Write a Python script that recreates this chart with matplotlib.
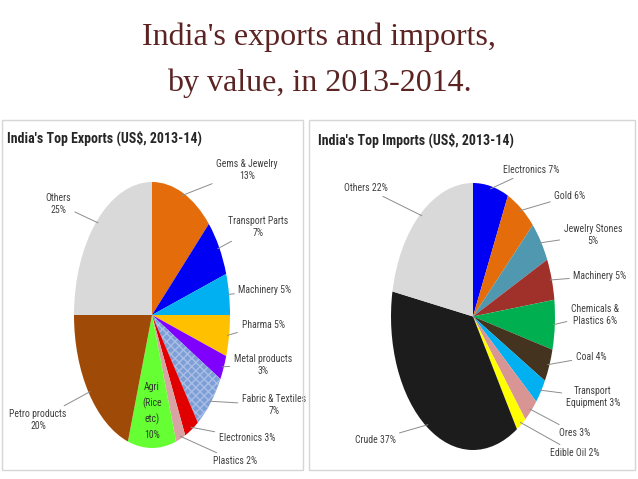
import numpy as np
import matplotlib.pyplot as plt
from matplotlib.patches import Rectangle

W, H = 638, 479

# exports data
exp_labels = ["Gems & Jewelry\n13%", "Transport Parts\n7%", "Machinery 5%", "Pharma 5%",
              "Metal products\n3%", "Fabric & Textiles\n7%", "Electronics 3%", "Plastics 2%",
              "Agri\n(Rice\netc)\n10%", "Petro products\n20%", "Others\n25%"]
exp_values = [13, 7, 5, 5, 3, 7, 3, 2, 10, 20, 25]
exp_colors = ["#E46C0A", "#0000F5", "#00B0F0", "#FFC000", "#7F00FF", "#7E9ED6",
              "#E00000", "#D9A3A3", "#66FF33", "#A04A08", "#D9D9D9"]

# imports data
imp_labels = ["Electronics 7%", "Gold 6%", "Jewelry Stones\n5%", "Machinery 5%",
              "Chemicals &\nPlastics 6%", "Coal 4%", "Transport\nEquipment 3%", "Ores 3%",
              "Edible Oil 2%", "Crude 37%", "Others 22%"]
imp_values = [7, 6, 5, 5, 6, 4, 3, 3, 2, 37, 22]
imp_colors = ["#0000F5", "#E46C0A", "#4F98B0", "#A0302A", "#00B050", "#44331F",
              "#00B0F0", "#D99594", "#FFFF00", "#1C1C1C", "#D9D9D9"]

# label text positions (image pixels), None = inside the wedge
exp_text_pos = [(247, 170), (258, 227), (265, 290), (263, 325), (263, 365), (274, 405),
                (247, 438), (235, 461), None, (38, 420), (58, 204)]
exp_inside_pos = (152, 411)
imp_text_pos = [(531, 170), (570, 196), (593, 235), (600, 276), (595, 315), (591, 357),
                (593, 397), (575, 433), (575, 453), (375, 440), (366, 188)]

TXT = "#404040"
LINE = "#8C8C8C"
NARROW = ["Roboto Condensed", "DejaVu Sans"]


def fig_frac(p):
    return (p[0] / W, 1 - p[1] / H)


def draw_pie(fig, box, values, colors, labels, text_pos):
    x0, y0, x1, y1 = box
    ax = fig.add_axes([x0 / W, 1 - y1 / H, (x1 - x0) / W, (y1 - y0) / H])
    wedges, _ = ax.pie(values, colors=colors, startangle=90, counterclock=False,
                       wedgeprops=dict(linewidth=0))
    ax.set_xlim(-1, 1)
    ax.set_ylim(-1, 1)
    ax.set_aspect("auto")
    ax.axis("off")
    for w, lab, pos in zip(wedges, labels, text_pos):
        if pos is None:
            continue
        theta = np.deg2rad((w.theta1 + w.theta2) / 2)
        ax.annotate(lab, xy=(0.98 * np.cos(theta), 0.98 * np.sin(theta)),
                    xytext=fig_frac(pos), textcoords="figure fraction",
                    ha="center", va="center", fontsize=7, color=TXT, family=NARROW,
                    annotation_clip=False, multialignment="center",
                    arrowprops=dict(arrowstyle="-", color=LINE, lw=0.7,
                                    shrinkA=1, shrinkB=0))
    return ax, wedges


fig = plt.figure(figsize=(W / 100, H / 100), dpi=100)
fig.patch.set_facecolor("white")

fig.text(0.5, 1 - 37 / H, "India's exports and imports,", ha="center", va="center",
         family="Liberation Serif", fontsize=23, color="#5C2323")
fig.text(0.5, 1 - 83 / H, "by value, in 2013-2014.", ha="center", va="center",
         family="Liberation Serif", fontsize=23, color="#5C2323")

# panel frames
for (px0, px1) in [(2, 303), (309, 635)]:
    fig.patches.append(Rectangle((px0 / W, 1 - 470 / H), (px1 - px0) / W, 350 / H,
                                 transform=fig.transFigure, fill=False,
                                 edgecolor="#D6D6D6", lw=1))

fig.text(7 / W, 1 - 138 / H, "India's Top Exports (US$, 2013-14)", ha="left", va="center",
         family=NARROW, fontsize=10, fontweight="bold", color="#262626")
fig.text(318 / W, 1 - 140 / H, "India's Top Imports (US$, 2013-14)", ha="left", va="center",
         family=NARROW, fontsize=10, fontweight="bold", color="#262626")

ax1, w1 = draw_pie(fig, (74, 182, 230, 448), exp_values, exp_colors, exp_labels, exp_text_pos)
w1[5].set_hatch("xxxx")
w1[5].set_edgecolor("#A9BFE6")
w1[5].set_linewidth(0)
fig.text(*fig_frac(exp_inside_pos), exp_labels[8], ha="center", va="center",
         fontsize=7, color="#2F3A2A", family=NARROW, linespacing=1.6)

ax2, w2 = draw_pie(fig, (391, 183, 555, 450), imp_values, imp_colors, imp_labels, imp_text_pos)

fig.savefig("out.png", dpi=100)
